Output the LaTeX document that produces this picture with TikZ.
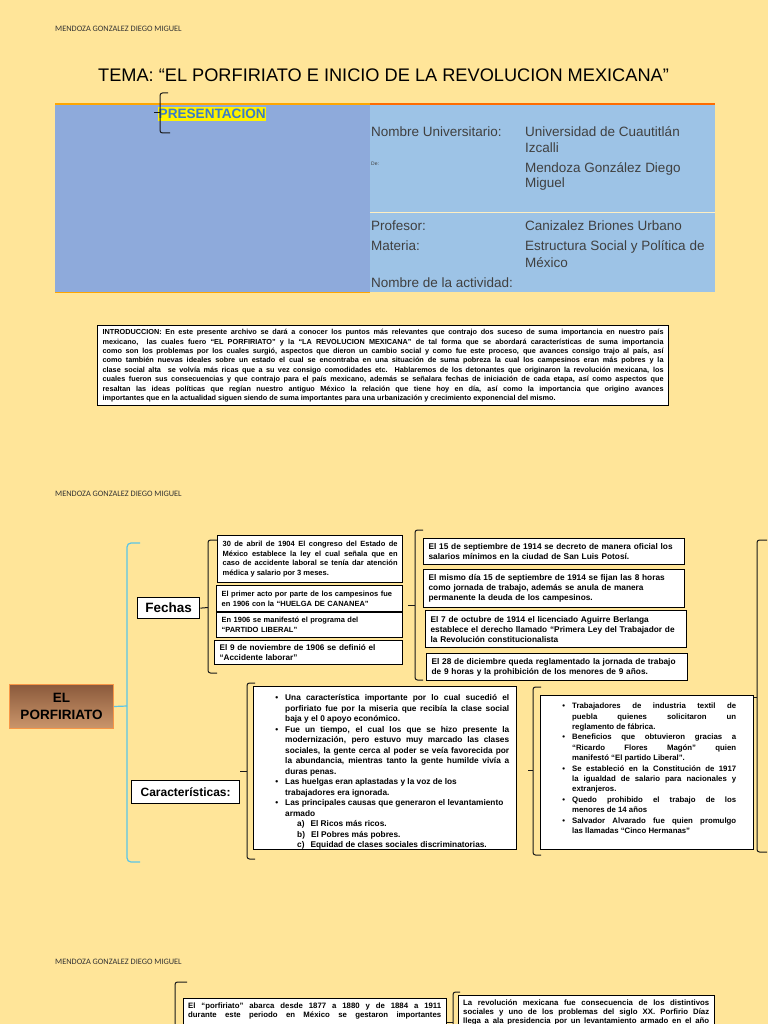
\documentclass[tikz,border=0pt]{standalone}
\usepackage{fontspec}
\setmainfont{Liberation Sans}
\newfontfamily\headfont{Carlito}
\usetikzlibrary{positioning}

\definecolor{pagebg}{HTML}{FFE599}
\definecolor{leftcell}{HTML}{8EAADB}
\definecolor{rightcell}{HTML}{9DC3E6}
\definecolor{cellgray}{HTML}{404040}
\definecolor{headgray}{HTML}{333333}
\definecolor{presblue}{HTML}{3A7CC8}
\definecolor{bracecyan}{HTML}{5BC5E6}
\definecolor{porftop}{HTML}{8B5A3C}
\definecolor{porfbot}{HTML}{CB966B}
\definecolor{porfedge}{HTML}{F79646}

% bullet at the left of a list line
\newcommand{\itembul}{\par\noindent\llap{\textbullet\hspace{7pt}}}

\begin{document}
\begin{tikzpicture}[x=1pt, y=-1pt,
    header/.style={anchor=west, inner sep=0pt, text=headgray, font=\headfont\fontsize{8.3}{9}\selectfont},
    tcell/.style={anchor=base west, inner sep=0pt, text=cellgray, font=\fontsize{13.5}{16}\selectfont},
    textbox/.style={draw, line width=1.2pt, fill=white, anchor=north west, inner xsep=5pt, inner ysep=2pt},
    datebox/.style={textbox, align=left, font=\fontsize{8.3}{10}\selectfont\bfseries},
    frame/.style={draw, line width=1.2pt, fill=white, anchor=north west, inner sep=0pt},
    listtext/.style={anchor=north west, inner sep=0pt, align=justify},
    lbl/.style={draw, line width=1.3pt, fill=white, anchor=north west, inner sep=0pt},
    brk/.style={draw=black!90, line width=1pt, rounded corners=2.5pt},
    cyanbrk/.style={draw=bracecyan, line width=1.2pt, rounded corners=4pt}]

    \useasboundingbox (0,0) rectangle (768,1024);
    \clip (0,0) rectangle (768,1024);
    \fill[pagebg] (0,0) rectangle (768,1024);

    % ---------- page 1 ----------
    \node (head1) [header] at (55,29) {MENDOZA GONZALEZ DIEGO MIGUEL};
    \node (title) at (383.5,75) {\fontsize{18.2}{20}\selectfont TEMA: “EL PORFIRIATO E INICIO DE LA REVOLUCION MEXICANA”};

    \fill[leftcell] (55,105) rectangle (370,292);
    \fill[rightcell] (370,105) rectangle (715,292);
    \draw[draw=orange!70!yellow, line width=1.5pt] (55,104) -- (370,104);
    \draw[draw=orange!85!red, line width=2pt] (370,104) -- (715,104);
    \draw[draw=orange!70!yellow, line width=1pt] (55,292) -- (370,292);
    \draw[draw=pagebg!60!white, line width=1pt] (370,213) -- (715,213);

    \node (pres) [anchor=north west, fill=yellow, inner xsep=0.5pt, inner ysep=1pt, text height=10.5pt, text depth=1.5pt, text=presblue, font=\fontsize{13.6}{14}\selectfont\bfseries] at (158,107) {PRESENTACION};
    \draw[brk] (168,93) -- (160,93) -- (160,133) -- (170,133);
    \draw[brk] (154,113) -- (160,113);

    \node (unilbl) [tcell] at (371,136.5) {Nombre Universitario:};
    \node (univ1) [tcell] at (525,136.5) {Universidad de Cuautitlán};
    \node (univ2) [tcell] at (525,153) {Izcalli};
    \node (delbl) [tcell, font=\fontsize{5}{6}\selectfont] at (371,166) {De:};
    \node (name1) [tcell] at (525,173) {Mendoza González Diego};
    \node (name2) [tcell] at (525,188) {Miguel};
    \node (proflbl) [tcell] at (371,230) {Profesor:};
    \node (prof) [tcell] at (525,230) {Canizalez Briones Urbano};
    \node (matlbl) [tcell] at (371,251) {Materia:};
    \node (mat1) [tcell] at (525,251) {Estructura Social y Política de};
    \node (mat2) [tcell] at (525,267) {México};
    \node (actlbl) [tcell] at (371,287) {Nombre de la actividad:};

    \node (intro) [textbox, text width=561pt, minimum height=80pt, align=justify, font=\fontsize{7.3}{9.4}\selectfont\bfseries] at (97,325) {INTRODUCCION: En este presente archivo se dará a conocer los puntos más relevantes que contrajo dos suceso de suma importancia en nuestro país\linebreak
    mexicano,\ \ las cuales fuero “EL PORFIRIATO” y la “LA REVOLUCION MEXICANA” de tal forma que se abordará características de suma importancia\linebreak
    como son los problemas por los cuales surgió, aspectos que dieron un cambio social y como fue este proceso, que avances consigo trajo al país, así\linebreak
    como también nuevas ideales sobre un estado el cual se encontraba en una situación de suma pobreza la cual los campesinos eran más pobres y la\linebreak
    clase social alta\ \ se volvía más ricas que a su vez consigo comodidades etc. Hablaremos de los detonantes que originaron la revolución mexicana, los\linebreak
    cuales fueron sus consecuencias y que contrajo para el país mexicano, además se señalara fechas de iniciación de cada etapa, así como aspectos que\linebreak
    resaltan las ideas políticas que regían nuestro antiguo México la relación que tiene hoy en día, así como la importancia que origino avances\linebreak
    importantes que en la actualidad siguen siendo de suma importantes para una urbanización y crecimiento exponencial del mismo.};

    % ---------- page 2 ----------
    \node (head2) [header] at (55,494) {MENDOZA GONZALEZ DIEGO MIGUEL};

    \node (porf) [anchor=north west, minimum width=104pt, minimum height=44pt, inner sep=0pt, top color=porftop, bottom color=porfbot, draw=porfedge, line width=1pt, align=center, font=\fontsize{13.5}{17}\selectfont\bfseries] at (9,684) {EL\\PORFIRIATO};
    \draw[cyanbrk] (140,543) -- (127,543) -- (127,862) -- (140,862);
    \draw[cyanbrk] (porf.east) -- (127,706);

    \node (fechas) [lbl, minimum width=62pt, minimum height=21pt, font=\fontsize{13.5}{14}\selectfont\bfseries] at (137,597) {Fechas};
    \node (chars) [lbl, minimum width=108pt, minimum height=23pt, font=\fontsize{12}{13}\selectfont\bfseries] at (131,780) {Características:};

    \node (fecha1) [datebox, text width=175pt, minimum height=47pt, align=justify, font=\fontsize{7.5}{9.7}\selectfont\bfseries] at (217,535) {30 de abril de 1904 El congreso del Estado de\linebreak México establece la ley el cual señala que en\linebreak caso de accidente laboral se tenía dar atención\linebreak médica y salario por 3 meses.};
    \node (fecha2) [datebox, text width=176pt, minimum height=26pt, font=\fontsize{7.5}{9.7}\selectfont\bfseries] at (216,585) {El primer acto por parte de los campesinos fue\\en 1906 con la “HUELGA DE CANANEA”};
    \node (fecha3) [datebox, text width=176pt, minimum height=25pt, font=\fontsize{7.5}{9.7}\selectfont\bfseries] at (216,612) {En 1906 se manifestó el programa del\\“PARTIDO LIBERAL”};
    \node (fecha4) [datebox, text width=178pt, minimum height=24pt, font=\fontsize{8.2}{9.7}\selectfont\bfseries] at (214,640) {El 9 de noviembre de 1906 se definió el\\“Accidente laborar”};
    \draw[brk] (217,540) -- (208,540) -- (208,673) -- (217,673);
    \draw[brk] (fechas.east) -- (208,607.5);

    \node (ley1) [datebox, text width=251pt, minimum height=26pt] at (423,538) {El 15 de septiembre de 1914 se decreto de manera oficial los\\salarios mínimos en la ciudad de San Luis Potosí.};
    \node (ley2) [datebox, text width=251pt, minimum height=38pt] at (423,569) {El mismo día 15 de septiembre de 1914 se fijan las 8 horas\\como jornada de trabajo, además se anula de manera\\permanente la deuda de los campesinos.};
    \node (ley3) [datebox, text width=251pt, minimum height=37pt] at (425,610) {El 7 de octubre de 1914 el licenciado Aguirre Berlanga\\establece el derecho llamado “Primera Ley del Trabajador de\\la Revolución constitucionalista};
    \node (ley4) [datebox, text width=251pt, minimum height=27pt] at (426,653) {El 28 de diciembre queda reglamentado la jornada de trabajo\\de 9 horas y la prohibición de los menores de 9 años.};
    \draw[brk] (423,530) -- (415,530) -- (415,680) -- (423,680);
    \draw[brk] (408,605) -- (415,605);
    \draw[brk] (767,540) -- (757,540) -- (757,852) -- (767,852);
    \draw[brk] (750,697) -- (757,697);

    \node (charbox) [frame, minimum width=263pt, minimum height=163pt] at (253,686) {};
    \node (charlist) [listtext, text width=224pt, font=\fontsize{8.3}{10.5}\selectfont\bfseries, below right=4pt and 32pt of charbox.north west] {%
    \itembul Una característica importante por lo cual sucedió el\linebreak porfiriato fue por la miseria que recibía la clase social\linebreak baja y el 0 apoyo económico.
    \itembul Fue un tiempo, el cual los que se hizo presente la\linebreak modernización, pero estuvo muy marcado las clases\linebreak sociales, la gente cerca al poder se veía favorecida por\linebreak la abundancia, mientras tanto la gente humilde vivía a\linebreak duras penas.
    \itembul Las huelgas eran aplastadas y la voz de los\newline trabajadores era ignorada.
    \itembul Las principales causas que generaron el levantamiento\newline armado
    \par\noindent\hspace*{12pt}a)\hspace{6pt}El Ricos más ricos.
    \par\noindent\hspace*{12pt}b)\hspace{6pt}El Pobres más pobres.
    \par\noindent\hspace*{12pt}c)\hspace{6pt}Equidad de clases sociales discriminatorias.};
    \draw[brk] (255,683) -- (247,683) -- (247,859) -- (255,859);
    \draw[brk] (chars.east |- 0,771) -- (247,771);

    \node (rbox) [frame, minimum width=213pt, minimum height=154pt] at (540,695) {};
    \node (rlist) [listtext, text width=164pt, font=\fontsize{7.8}{10.4}\selectfont\bfseries, below right=3pt and 32pt of rbox.north west] {%
    \itembul Trabajadores de industria textil de\linebreak puebla quienes solicitaron un\linebreak reglamento de fábrica.
    \itembul Beneficios que obtuvieron gracias a\linebreak “Ricardo Flores Magón” quien\linebreak manifestó “El partido Liberal”.
    \itembul Se estableció en la Constitución de 1917\linebreak la igualdad de salario para nacionales y\linebreak extranjeros.
    \itembul Quedo prohibido el trabajo de los\linebreak menores de 14 años
    \itembul Salvador Alvarado fue quien promulgo\linebreak las llamadas “Cinco Hermanas”};
    \draw[brk] (541,687) -- (533,687) -- (533,855) -- (541,855);
    \draw[brk] (528,770) -- (533,770);

    % ---------- page 3 ----------
    \node (head3) [header] at (55,962) {MENDOZA GONZALEZ DIEGO MIGUEL};

    \node (porfframe) [frame, minimum width=263pt, minimum height=45pt] at (183,998) {};
    \node (porftext) [listtext, text width=253pt, font=\fontsize{7.8}{9}\selectfont\bfseries, below right=5pt and 5pt of porfframe.north west] {El “porfiriato” abarca desde 1877 a 1880 y de 1884 a 1911\linebreak durante este periodo en México se gestaron importantes\linebreak\mbox{}};
    \draw[brk] (187,982) -- (175,982) -- (175,1040);

    \node (revframe) [frame, minimum width=256pt, minimum height=45pt] at (458,995) {};
    \node (revtext) [listtext, text width=246pt, font=\fontsize{7.8}{9}\selectfont\bfseries, below right=5pt and 5pt of revframe.north west] {La revolución mexicana fue consecuencia de los distintivos\linebreak sociales y uno de los problemas del siglo XX. Porfirio Díaz\linebreak llega a ala presidencia por un levantamiento armado en el año\linebreak\mbox{}};
    \draw[brk] (460,992) -- (453,992) -- (453,1040);
    \draw[brk] (447,1022) -- (453,1022);
\end{tikzpicture}
\end{document}
